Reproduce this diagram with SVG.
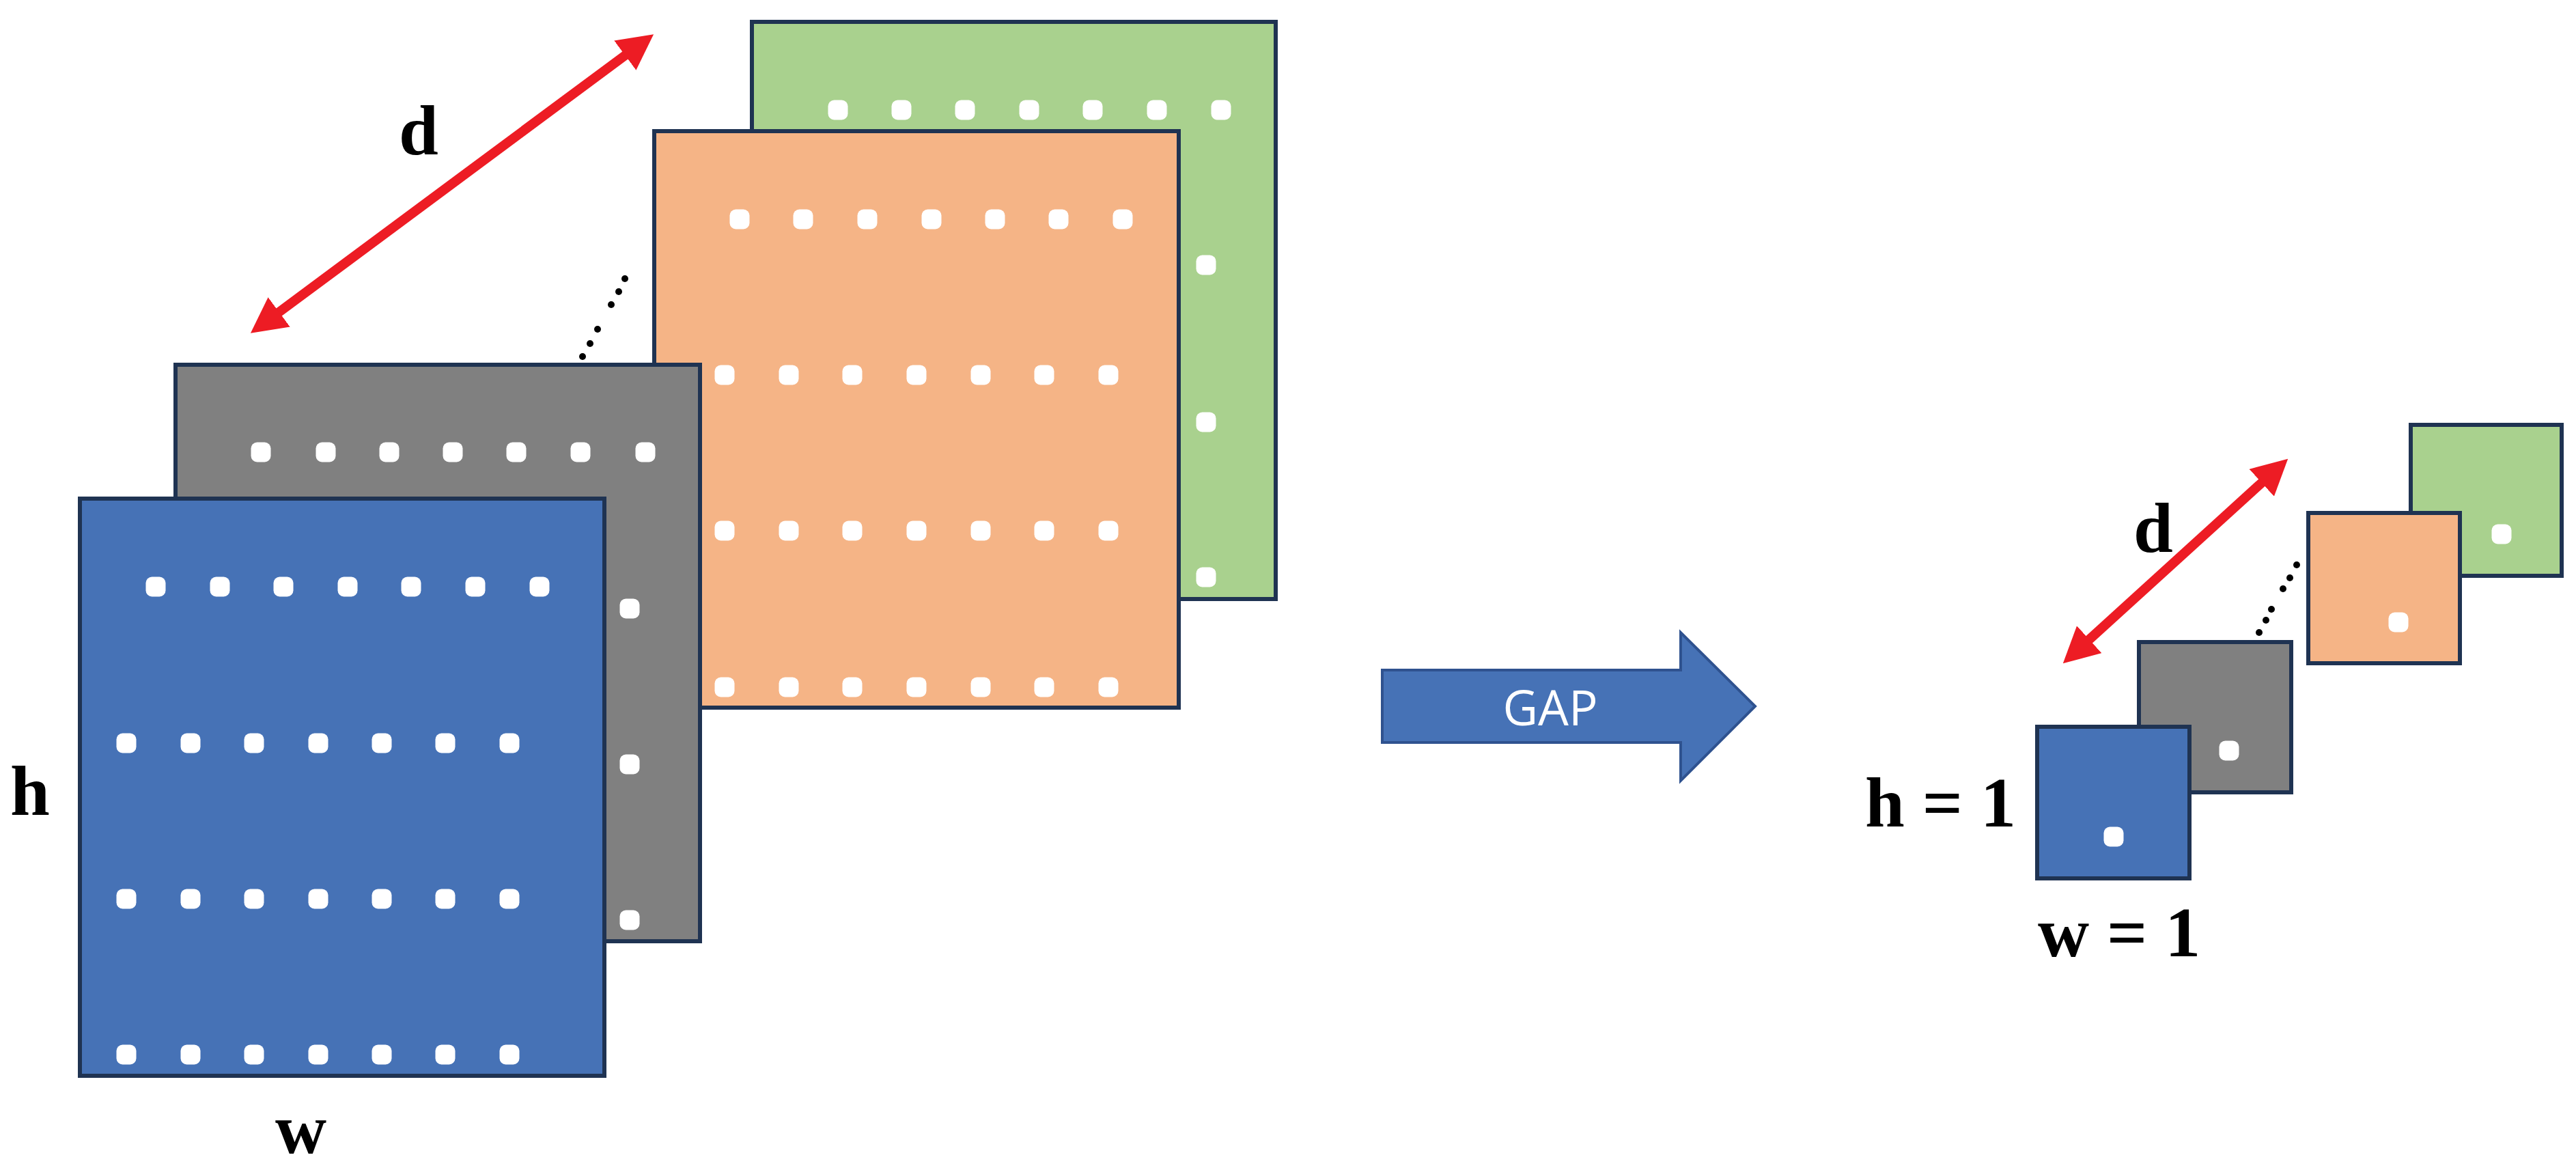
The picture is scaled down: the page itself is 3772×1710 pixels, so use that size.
<svg xmlns="http://www.w3.org/2000/svg" xmlns:xlink="http://www.w3.org/1999/xlink" width="3772" height="1710" viewBox="0 0 3772 1710">
<style>
.map{stroke:#1F3352;stroke-width:6}
.blue{fill:#4672B6}
.gray{fill:#808080}
.orange{fill:#F5B486}
.green{fill:#A9D18E}
.dot{fill:#FFFFFF}
.ell{fill:#000000}
.lbl{font-family:"Liberation Serif","Times New Roman",serif;font-weight:bold;font-size:104px;fill:#000}
.red{stroke:#ED1C24;stroke-width:14;fill:none}
.gap{fill:#4672B6;stroke:#2F528F;stroke-width:4}
.gaptxt{font-family:"Open Sans","Liberation Sans",sans-serif;font-size:71px;fill:#FFFFFF}
</style>
<defs>
<rect id="d" x="-14.5" y="-14.5" width="29" height="29" rx="9" ry="9" class="dot"/>
<marker id="head" markerUnits="userSpaceOnUse" viewBox="0 -27 52 54" markerWidth="52" markerHeight="54" refX="22" refY="0" orient="auto-start-reverse">
<path d="M0,-27 L52,0 L0,27 Z" fill="#ED1C24"/>
</marker>
</defs>
<rect width="3772" height="1710" fill="#FFFFFF"/>

<!-- left stack -->
<g id="map-green">
<rect class="map green" x="1101" y="32" width="767" height="845"/>
<use href="#d" x="1227" y="161"/><use href="#d" x="1320" y="161"/><use href="#d" x="1413" y="161"/><use href="#d" x="1507" y="161"/><use href="#d" x="1600" y="161"/><use href="#d" x="1694" y="161"/><use href="#d" x="1788" y="161"/>
<use href="#d" x="1766" y="388"/><use href="#d" x="1766" y="618"/><use href="#d" x="1766" y="845"/>
</g>
<g id="map-orange">
<rect class="map orange" x="958" y="192" width="768" height="844"/>
<use href="#d" x="1083" y="321"/><use href="#d" x="1176" y="321"/><use href="#d" x="1270" y="321"/><use href="#d" x="1364" y="321"/><use href="#d" x="1457" y="321"/><use href="#d" x="1550" y="321"/><use href="#d" x="1644" y="321"/>
<use href="#d" x="1061" y="549"/><use href="#d" x="1155" y="549"/><use href="#d" x="1248" y="549"/><use href="#d" x="1342" y="549"/><use href="#d" x="1436" y="549"/><use href="#d" x="1529" y="549"/><use href="#d" x="1623" y="549"/>
<use href="#d" x="1061" y="777"/><use href="#d" x="1155" y="777"/><use href="#d" x="1248" y="777"/><use href="#d" x="1342" y="777"/><use href="#d" x="1436" y="777"/><use href="#d" x="1529" y="777"/><use href="#d" x="1623" y="777"/>
<use href="#d" x="1061" y="1006"/><use href="#d" x="1155" y="1006"/><use href="#d" x="1248" y="1006"/><use href="#d" x="1342" y="1006"/><use href="#d" x="1436" y="1006"/><use href="#d" x="1529" y="1006"/><use href="#d" x="1623" y="1006"/>
</g>
<g id="ellipsis-left">
<circle class="ell" cx="915" cy="408" r="5"/><circle class="ell" cx="906" cy="427" r="5"/><circle class="ell" cx="895" cy="446" r="5"/><circle class="ell" cx="875" cy="482" r="5"/><circle class="ell" cx="864" cy="503" r="5"/><circle class="ell" cx="853" cy="522" r="5"/>
</g>
<g id="map-gray">
<rect class="map gray" x="257" y="534" width="768" height="844"/>
<use href="#d" x="382" y="662"/><use href="#d" x="477" y="662"/><use href="#d" x="570" y="662"/><use href="#d" x="663" y="662"/><use href="#d" x="756" y="662"/><use href="#d" x="850" y="662"/><use href="#d" x="945" y="662"/>
<use href="#d" x="922" y="891"/><use href="#d" x="922" y="1119"/><use href="#d" x="922" y="1347"/>
</g>
<g id="map-blue">
<rect class="map blue" x="117" y="730" width="768" height="845"/>
<use href="#d" x="228" y="859"/><use href="#d" x="322" y="859"/><use href="#d" x="415" y="859"/><use href="#d" x="509" y="859"/><use href="#d" x="602" y="859"/><use href="#d" x="696" y="859"/><use href="#d" x="790" y="859"/>
<use href="#d" x="185" y="1088"/><use href="#d" x="279" y="1088"/><use href="#d" x="372" y="1088"/><use href="#d" x="466" y="1088"/><use href="#d" x="559" y="1088"/><use href="#d" x="652" y="1088"/><use href="#d" x="746" y="1088"/>
<use href="#d" x="185" y="1316"/><use href="#d" x="279" y="1316"/><use href="#d" x="372" y="1316"/><use href="#d" x="466" y="1316"/><use href="#d" x="559" y="1316"/><use href="#d" x="652" y="1316"/><use href="#d" x="746" y="1316"/>
<use href="#d" x="185" y="1544"/><use href="#d" x="279" y="1544"/><use href="#d" x="372" y="1544"/><use href="#d" x="466" y="1544"/><use href="#d" x="559" y="1544"/><use href="#d" x="652" y="1544"/><use href="#d" x="746" y="1544"/>
</g>
<g id="labels-left">
<text class="lbl" x="584" y="226">d</text>
<text class="lbl" x="15" y="1193">h</text>
<text class="lbl" x="403" y="1688">w</text>
</g>

<!-- GAP arrow -->
<g id="gap-arrow">
<path class="gap" d="M2024,981 L2461,981 L2461,926 L2570,1034 L2461,1143 L2461,1087 L2024,1087 Z"/>
<text class="gaptxt" x="2270" y="1062" text-anchor="middle">GAP</text>
</g>

<!-- right stack -->
<g id="vec-green">
<rect class="map green" x="3530" y="622" width="221" height="221"/>
<use href="#d" x="3663" y="782"/>
</g>
<g id="vec-orange">
<rect class="map orange" x="3380" y="751" width="222" height="220"/>
<use href="#d" x="3512" y="911"/>
</g>
<g id="ellipsis-right">
<circle class="ell" cx="3363" cy="827" r="5"/><circle class="ell" cx="3353" cy="846" r="5"/><circle class="ell" cx="3343" cy="862" r="5"/><circle class="ell" cx="3326" cy="892" r="5"/><circle class="ell" cx="3318" cy="908" r="5"/><circle class="ell" cx="3308" cy="926" r="5"/>
</g>
<g id="vec-gray">
<rect class="map gray" x="3132" y="940" width="223" height="220"/>
<use href="#d" x="3264" y="1099"/>
</g>
<g id="vec-blue">
<rect class="map blue" x="2983" y="1064" width="223" height="222"/>
<use href="#d" x="3095" y="1225"/>
</g>
<g id="labels-right">
<text class="lbl" x="3124" y="808">d</text>
<text class="lbl" x="2731" y="1210" xml:space="preserve">h = 1</text>
<text class="lbl" x="2984" y="1400" xml:space="preserve">w = 1</text>
</g>

<!-- connectors: depth arrows -->
<g id="connectors">
<line class="red" x1="391" y1="470" x2="933" y2="68" marker-start="url(#head)" marker-end="url(#head)"/>
<line class="red" x1="3043" y1="951" x2="3328" y2="692" marker-start="url(#head)" marker-end="url(#head)"/>
</g>
</svg>
